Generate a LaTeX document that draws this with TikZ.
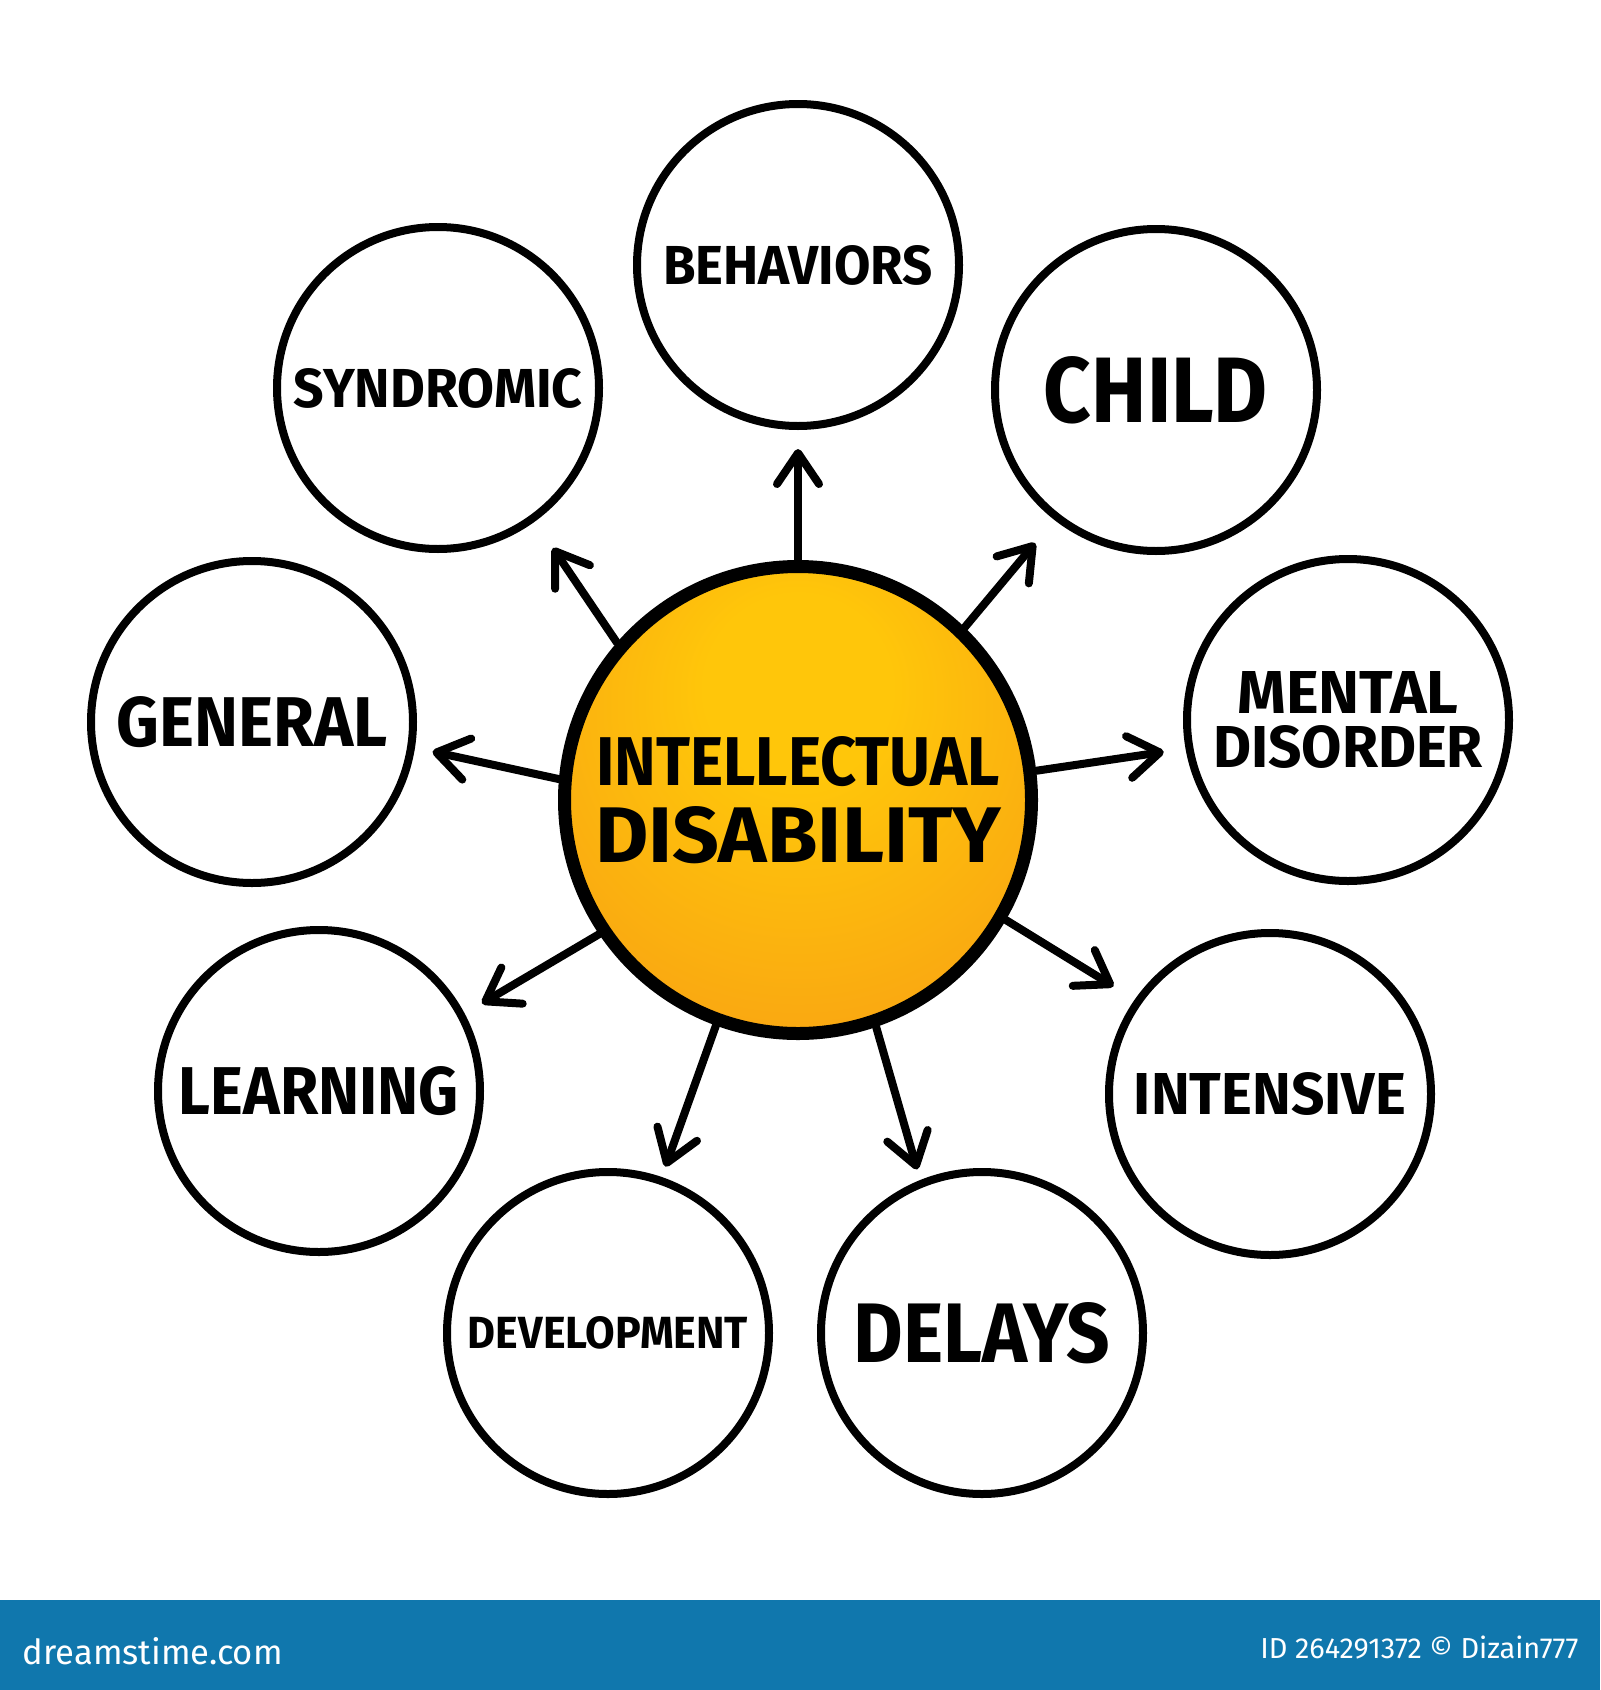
\documentclass[tikz,border=0pt]{standalone}
\usepackage{fontspec}
\setmainfont{Fira Sans}
\usepackage{graphicx}
\usetikzlibrary{arrows.meta}

\definecolor{hubyellow}{RGB}{255,198,10}
\definecolor{huborange}{RGB}{246,150,22}
\definecolor{footblue}{RGB}{16,119,173}

\newcommand{\bubSize}{32.2mm}
\newcommand{\hubSize}{46.7mm}
\newcommand{\lbl}[3]{\resizebox{#1}{#2}{\bfseries #3}}

\pgfdeclareradialshading{hubshade}{\pgfpoint{0bp}{14bp}}{color(0bp)=(hubyellow); color(10bp)=(hubyellow); color(46bp)=(huborange); color(70bp)=(huborange)}

\begin{document}
\begin{tikzpicture}[x=0.1mm, y=-0.1mm,
    bubble/.style={circle, draw, line width=0.8mm, minimum size=\bubSize, inner sep=0pt},
    hub/.style={circle, draw, line width=1.3mm, minimum size=\hubSize, inner sep=0pt, shade, shading=hubshade},
    arr/.style={line width=0.8mm, line cap=round, -{Straight Barb[length=3.1mm,width=4.2mm,round]}}]

        \useasboundingbox (0,0) rectangle (1600,1690);

        % Draw the central circle
        \node[hub, align=center, font=\fontsize{20pt}{22.1pt}\selectfont] (hub) at (798,800)
            {\lbl{40.3mm}{4.9mm}{INTELLECTUAL}\\\lbl{40.6mm}{5.6mm}{DISABILITY}};

        % Draw the outer circles
        \node[bubble] (behav) at (798,265) {\lbl{27mm}{3.9mm}{BEHAVIORS}};
        \node[bubble] (synd) at (438,388) {\lbl{28.9mm}{3.9mm}{SYNDROMIC}};
        \node[bubble] (child) at (1156,390) {\lbl{22.4mm}{6.6mm}{CHILD}};
        \node[bubble] (general) at (252,722) {\lbl{27.1mm}{5mm}{GENERAL}};
        \node[bubble, align=center, font=\fontsize{12pt}{15.3pt}\selectfont] (mental) at (1348,720)
            {\lbl{22.1mm}{4.2mm}{MENTAL}\\\lbl{27mm}{4.2mm}{DISORDER}};
        \node[bubble] (learning) at (319,1091) {\lbl{28mm}{4.8mm}{LEARNING}};
        \node[bubble] (intens) at (1270,1094) {\lbl{27.2mm}{4.2mm}{INTENSIVE}};
        \node[bubble] (devel) at (608,1333) {\lbl{28mm}{3.2mm}{DEVELOPMENT}};
        \node[bubble] (delays) at (982,1333) {\lbl{25.7mm}{6mm}{DELAYS}};

        % Arrows from the centre out
        \draw[arr, shorten >=1.9mm] (hub.90) -- (behav.-90);
        \draw[arr, shorten >=3.2mm] (hub.139) -- (synd.-54);
        \draw[arr, shorten >=3mm] (hub.46) -- (child.-128);
        \draw[arr, shorten >=2.2mm] (hub.7) -- (mental.190);
        \draw[arr, shorten >=1.8mm] (hub.175) -- (general.-9);
        \draw[arr, shorten >=2mm] (hub.-146) -- (learning.28);
        \draw[arr, shorten >=1.1mm] (hub.-110) -- (devel.71);
        \draw[arr, shorten >=1.1mm] (hub.-71) -- (delays.112);
        \draw[arr, shorten >=2.5mm] (hub.-30) -- (intens.145);

        % Footer bar
        \fill[footblue] (0,1600) rectangle (1600,1690);
        \node[anchor=base west, text=white, inner sep=0pt] (site) at (22,1664)
            {\resizebox{26mm}{!}{dreamstime.com}};
        \node[anchor=base east, text=white, inner sep=0pt] (credit) at (1579,1658)
            {\resizebox{31.8mm}{!}{ID 264291372 © Dizain777}};
    \end{tikzpicture}
\end{document}
